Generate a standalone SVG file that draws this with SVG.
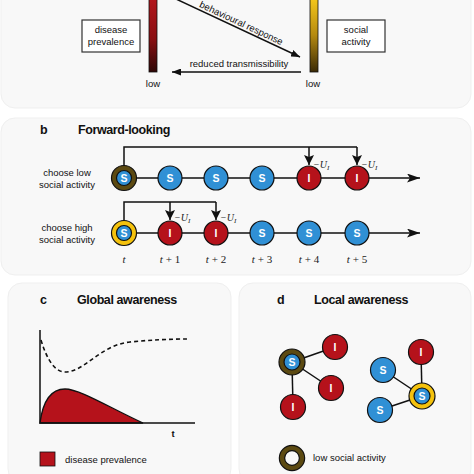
<svg xmlns="http://www.w3.org/2000/svg" width="474" height="474" viewBox="0 0 474 474">
<defs>
<linearGradient id="gRed" x1="0" y1="0" x2="0" y2="1">
<stop offset="0" stop-color="#b3161c"/><stop offset="0.55" stop-color="#8a0f12"/><stop offset="1" stop-color="#2e0706"/>
</linearGradient>
<linearGradient id="gYel" x1="0" y1="0" x2="0" y2="1">
<stop offset="0" stop-color="#f6c81a"/><stop offset="0.5" stop-color="#b58a10"/><stop offset="1" stop-color="#3a2a06"/>
</linearGradient>
<marker id="ahS" markerUnits="userSpaceOnUse" markerWidth="9" markerHeight="7" refX="9" refY="3.5" orient="auto"><path d="M0,0 L9,3.5 L0,7 z" fill="#111"/></marker>
<marker id="ahL" markerUnits="userSpaceOnUse" markerWidth="13" markerHeight="9" refX="13" refY="4.5" orient="auto"><path d="M0,0 L13,4.5 L0,9 L3,4.5 z" fill="#111"/></marker>
<marker id="ahV" markerUnits="userSpaceOnUse" markerWidth="10" markerHeight="10" refX="10" refY="5" orient="auto"><path d="M0,0 L10,5 L0,10 L2,5 z" fill="#111"/></marker>
</defs>
<style>
.panel{fill:#f8f8f8;stroke:#efefef;stroke-width:1}
.lbl{font-family:"Liberation Sans",Arial,sans-serif;font-size:9.5px;fill:#111}
.ttl{font-family:"Liberation Sans",Arial,sans-serif;font-size:12.5px;font-weight:bold;fill:#111;letter-spacing:-0.4px}
.math{font-family:"Liberation Serif","Times New Roman",serif;font-size:11px;fill:#222}
.mathS{font-family:"Liberation Serif","Times New Roman",serif;font-size:10px;fill:#222;font-style:italic}
.ln{stroke:#111;stroke-width:1.5;fill:none}
.S{fill:#3090d5;stroke:#111;stroke-width:1.2}
.I{fill:#b5121b;stroke:#111;stroke-width:1.2}
.lo{fill:#5c4a12;stroke:#111;stroke-width:1.2}
.hi{fill:#f4c20d;stroke:#111;stroke-width:1.2}
.nt{font-family:"Liberation Sans",Arial,sans-serif;font-size:10.5px;font-weight:bold;fill:#fff;text-anchor:middle}
.box{fill:#fff;stroke:#333;stroke-width:1.2}
</style>
<rect width="474" height="474" fill="#fff"/>
<!-- panels -->
<rect class="panel" x="1" y="-20" width="470" height="128" rx="14"/>
<rect class="panel" x="1" y="118" width="470" height="157" rx="14"/>
<rect class="panel" x="8" y="283" width="223" height="200" rx="14"/>
<rect class="panel" x="239" y="283" width="232" height="200" rx="14"/>

<!-- panel a -->
<g id="a-disease">
<rect class="box" x="82" y="20" width="58" height="32"/>
<text class="lbl" x="111" y="33" text-anchor="middle">disease</text>
<text class="lbl" x="111" y="45" text-anchor="middle">prevalence</text>
</g>
<g id="a-redbar">
<rect x="149" y="-2" width="8" height="74" fill="url(#gRed)" stroke="#111" stroke-width="0.8"/>
<text class="lbl" x="153" y="87" text-anchor="middle">low</text>
</g>
<g id="a-yelbar">
<rect x="310" y="-2" width="8" height="74" fill="url(#gYel)" stroke="#111" stroke-width="0.8"/>
<text class="lbl" x="313" y="87" text-anchor="middle">low</text>
</g>
<g id="a-social">
<rect class="box" x="327" y="20" width="58" height="32"/>
<text class="lbl" x="356" y="33" text-anchor="middle">social</text>
<text class="lbl" x="356" y="45" text-anchor="middle">activity</text>
</g>
<g id="a-connectors">
<line class="ln" x1="176" y1="-1" x2="300" y2="57" stroke-width="1.1" marker-end="url(#ahS)"/>
<text class="lbl" transform="translate(240,26) rotate(25)" text-anchor="middle" font-size="9px">behavioural response</text>
<line class="ln" x1="301" y1="72" x2="172" y2="72" stroke-width="1.1" marker-end="url(#ahS)"/>
<text class="lbl" x="239" y="67" text-anchor="middle">reduced transmissibility</text>
</g>

<!-- panel b -->
<text class="ttl" x="40" y="134">b</text>
<text class="ttl" x="78" y="134">Forward-looking</text>
<text class="lbl" x="67" y="176" text-anchor="middle">choose low</text>
<text class="lbl" x="67" y="188" text-anchor="middle">social activity</text>
<text class="lbl" x="67" y="231" text-anchor="middle">choose high</text>
<text class="lbl" x="67" y="243" text-anchor="middle">social activity</text>

<g id="b-connectors">
<line class="ln" x1="124" y1="178" x2="420" y2="178" marker-end="url(#ahL)"/>
<line class="ln" x1="124" y1="233" x2="420" y2="233" marker-end="url(#ahL)"/>
<polyline class="ln" points="124,166 124,147 357,147"/>
<line class="ln" x1="309" y1="147" x2="309" y2="165" marker-end="url(#ahV)"/>
<line class="ln" x1="357" y1="147" x2="357" y2="165" marker-end="url(#ahV)"/>
<polyline class="ln" points="124,221 124,202 216,202"/>
<line class="ln" x1="170" y1="202" x2="170" y2="220" marker-end="url(#ahV)"/>
<line class="ln" x1="216" y1="202" x2="216" y2="220" marker-end="url(#ahV)"/>
</g>

<g id="b-r1n0"><circle class="lo" cx="124" cy="178" r="12.5"/><circle class="S" cx="124" cy="178" r="7.5"/><text class="nt" x="124" y="182" font-size="9.5px">S</text></g>
<g id="b-r1n1"><circle class="S" cx="170" cy="178" r="12"/><text class="nt" x="170" y="182">S</text></g>
<g id="b-r1n2"><circle class="S" cx="216" cy="178" r="12"/><text class="nt" x="216" y="182">S</text></g>
<g id="b-r1n3"><circle class="S" cx="262" cy="178" r="12"/><text class="nt" x="262" y="182">S</text></g>
<g id="b-r1n4"><circle class="I" cx="309" cy="178" r="12"/><text class="nt" x="309" y="182">I</text></g>
<g id="b-r1n5"><circle class="I" cx="357" cy="178" r="12"/><text class="nt" x="357" y="182">I</text></g>

<g id="b-r2n0"><circle class="hi" cx="124" cy="233" r="12.5"/><circle class="S" cx="124" cy="233" r="7.5"/><text class="nt" x="124" y="237" font-size="9.5px">S</text></g>
<g id="b-r2n1"><circle class="I" cx="170" cy="233" r="12"/><text class="nt" x="170" y="237">I</text></g>
<g id="b-r2n2"><circle class="I" cx="216" cy="233" r="12"/><text class="nt" x="216" y="237">I</text></g>
<g id="b-r2n3"><circle class="S" cx="262" cy="233" r="12"/><text class="nt" x="262" y="237">S</text></g>
<g id="b-r2n4"><circle class="S" cx="309" cy="233" r="12"/><text class="nt" x="309" y="237">S</text></g>
<g id="b-r2n5"><circle class="S" cx="357" cy="233" r="12"/><text class="nt" x="357" y="237">S</text></g>

<g id="b-costs">
<text class="mathS" x="313" y="168">−U<tspan font-size="7px" dy="2">I</tspan></text>
<text class="mathS" x="361" y="168">−U<tspan font-size="7px" dy="2">I</tspan></text>
<text class="mathS" x="174" y="221">−U<tspan font-size="7px" dy="2">I</tspan></text>
<text class="mathS" x="220" y="221">−U<tspan font-size="7px" dy="2">I</tspan></text>
</g>
<g id="b-times">
<text class="math" x="124" y="263" text-anchor="middle" font-style="italic">t</text>
<text class="math" x="170" y="263" text-anchor="middle"><tspan font-style="italic">t</tspan> + 1</text>
<text class="math" x="216" y="263" text-anchor="middle"><tspan font-style="italic">t</tspan> + 2</text>
<text class="math" x="262" y="263" text-anchor="middle"><tspan font-style="italic">t</tspan> + 3</text>
<text class="math" x="309" y="263" text-anchor="middle"><tspan font-style="italic">t</tspan> + 4</text>
<text class="math" x="357" y="263" text-anchor="middle"><tspan font-style="italic">t</tspan> + 5</text>
</g>

<!-- panel c -->
<text class="ttl" x="40" y="304">c</text>
<text class="ttl" x="77" y="304">Global awareness</text>
<path d="M40,423 C43,400 52,389 65,389 C80,389 110,408 143,423 Z" fill="#b5121b" stroke="#111" stroke-width="1.3"/>
<path d="M41,340 C47,360 55,372 65,372 C85,372 100,345 130,342 C150,340 170,339 187,339" fill="none" stroke="#111" stroke-width="1.6" stroke-dasharray="4,3"/>
<polyline class="ln" points="40,330 40,423 195,423"/>
<text class="lbl" x="173" y="437" font-weight="bold" font-size="10px" text-anchor="middle">t</text>
<rect x="40" y="452" width="15" height="14" fill="#b5121b" stroke="#111" stroke-width="0.8"/>
<text class="lbl" x="65" y="463">disease prevalence</text>

<!-- panel d -->
<text class="ttl" x="277" y="304">d</text>
<text class="ttl" x="314" y="304">Local awareness</text>
<g id="d-connectors" stroke="#111" stroke-width="1.5">
<line x1="292" y1="362" x2="335" y2="347"/>
<line x1="292" y1="362" x2="331" y2="388"/>
<line x1="292" y1="362" x2="293" y2="407"/>
<line x1="422" y1="396" x2="421" y2="352"/>
<line x1="422" y1="396" x2="383" y2="370"/>
<line x1="422" y1="396" x2="380" y2="410"/>
</g>
<g id="d-lowS"><circle class="lo" cx="292" cy="362" r="13"/><circle class="S" cx="292" cy="362" r="8"/><text class="nt" x="292" y="366" font-size="9.5px">S</text></g>
<g id="d-I1"><circle class="I" cx="335" cy="347" r="12.5"/><text class="nt" x="335" y="351">I</text></g>
<g id="d-I2"><circle class="I" cx="331" cy="388" r="12.5"/><text class="nt" x="331" y="392">I</text></g>
<g id="d-I3"><circle class="I" cx="293" cy="407" r="12.5"/><text class="nt" x="293" y="411">I</text></g>
<g id="d-I4"><circle class="I" cx="421" cy="352" r="12.5"/><text class="nt" x="421" y="356">I</text></g>
<g id="d-S1"><circle class="S" cx="383" cy="370" r="12.5"/><text class="nt" x="383" y="374">S</text></g>
<g id="d-S2"><circle class="S" cx="380" cy="410" r="12.5"/><text class="nt" x="380" y="414">S</text></g>
<g id="d-hiS"><circle class="hi" cx="422" cy="396" r="13"/><circle class="S" cx="422" cy="396" r="8"/><text class="nt" x="422" y="400" font-size="9.5px">S</text></g>
<g id="d-legend">
<circle cx="292" cy="458" r="10" fill="none" stroke="#111" stroke-width="6.5"/>
<circle cx="292" cy="458" r="10" fill="none" stroke="#5c4a12" stroke-width="4.2"/>
<text class="lbl" x="313" y="461">low social activity</text>
</g>
</svg>
